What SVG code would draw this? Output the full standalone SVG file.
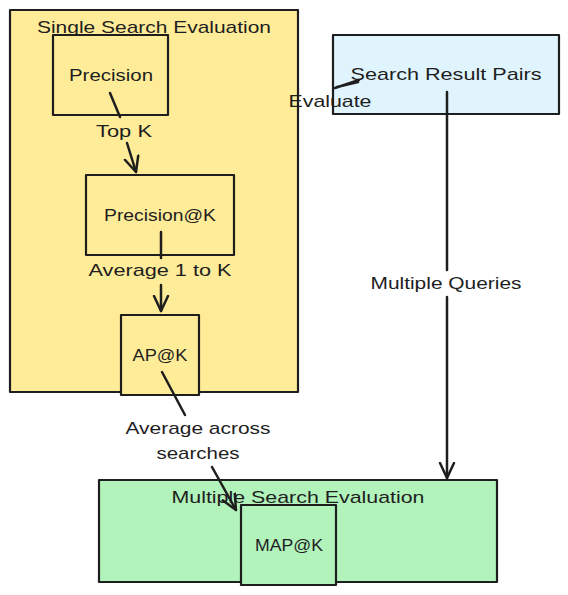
<svg xmlns="http://www.w3.org/2000/svg" width="568" height="595" viewBox="0 0 568 595">
<defs>
<style>
.box{stroke:#1e1e1e;stroke-width:2.2;stroke-linejoin:round}
.t{font-family:"Liberation Sans",Arial,sans-serif;font-size:17px;fill:#1e1e1e;text-anchor:middle}
.e{fill:none;stroke:#1e1e1e;stroke-width:2.5;stroke-linecap:round}
</style>
<marker id="ah" viewBox="-16 -9 18 18" markerWidth="18" markerHeight="18" refX="0" refY="0" orient="auto" markerUnits="userSpaceOnUse">
<path d="M -15 -7 L 0 0 L -15 7" fill="none" stroke="#1e1e1e" stroke-width="2.5" stroke-linecap="round" stroke-linejoin="round"/>
</marker>
</defs>
<rect width="568" height="595" fill="#ffffff"/>
<g id="single-search-evaluation">
<rect class="box" x="10" y="10" width="288" height="382" fill="#ffec99"/>
<text class="t" x="154" y="33" textLength="234" lengthAdjust="spacingAndGlyphs">Single Search Evaluation</text>
</g>
<g id="multiple-search-evaluation">
<rect class="box" x="99" y="480" width="398" height="102" fill="#b2f2bb"/>
<text class="t" x="298" y="503" textLength="253" lengthAdjust="spacingAndGlyphs">Multiple Search Evaluation</text>
</g>
<g id="precision">
<rect class="box" x="53" y="35" width="115" height="80" fill="#ffec99"/>
<text class="t" x="111" y="81" textLength="84" lengthAdjust="spacingAndGlyphs">Precision</text>
</g>
<g id="precision-at-k">
<rect class="box" x="86" y="175" width="148" height="80" fill="#ffec99"/>
<text class="t" x="160" y="221" textLength="112" lengthAdjust="spacingAndGlyphs">Precision@K</text>
</g>
<g id="ap-at-k">
<rect class="box" x="121" y="315" width="78" height="80" fill="#ffec99"/>
<text class="t" x="160" y="361" textLength="55" lengthAdjust="spacingAndGlyphs">AP@K</text>
</g>
<g id="search-result-pairs">
<rect class="box" x="333" y="35" width="226" height="79" fill="#e0f4fd"/>
<text class="t" x="446" y="80" textLength="191" lengthAdjust="spacingAndGlyphs">Search Result Pairs</text>
</g>
<g id="connectors">
<line class="e" x1="110" y1="93" x2="120" y2="117"/>
<line class="e" x1="127" y1="143" x2="136" y2="172" marker-end="url(#ah)"/>
<text class="t" x="124" y="137" textLength="56" lengthAdjust="spacingAndGlyphs">Top K</text>
<line class="e" x1="161" y1="232" x2="161" y2="258"/>
<line class="e" x1="161" y1="285" x2="161" y2="311" marker-end="url(#ah)"/>
<text class="t" x="160" y="276" textLength="143" lengthAdjust="spacingAndGlyphs">Average 1 to K</text>
<line class="e" x1="162" y1="372" x2="185" y2="415"/>
<line class="e" x1="212" y1="467" x2="236" y2="510" marker-end="url(#ah)"/>
<text class="t" x="198" y="434" textLength="145" lengthAdjust="spacingAndGlyphs">Average across</text>
<text class="t" x="198" y="459" textLength="83" lengthAdjust="spacingAndGlyphs">searches</text>
<line class="e" x1="447" y1="92" x2="447" y2="270"/>
<line class="e" x1="447" y1="297" x2="447" y2="478" marker-end="url(#ah)"/>
<text class="t" x="446" y="289" textLength="151" lengthAdjust="spacingAndGlyphs">Multiple Queries</text>
<path class="e" d="M335 88 L359 80 M337 87 L358 82" stroke-width="1.6"/>
<text class="t" x="330" y="107" textLength="83" lengthAdjust="spacingAndGlyphs">Evaluate</text>
</g>
<g id="map-at-k">
<rect class="box" x="241" y="505" width="95" height="80" fill="#b2f2bb"/>
<text class="t" x="289" y="551" textLength="68" lengthAdjust="spacingAndGlyphs">MAP@K</text>
</g>
</svg>
